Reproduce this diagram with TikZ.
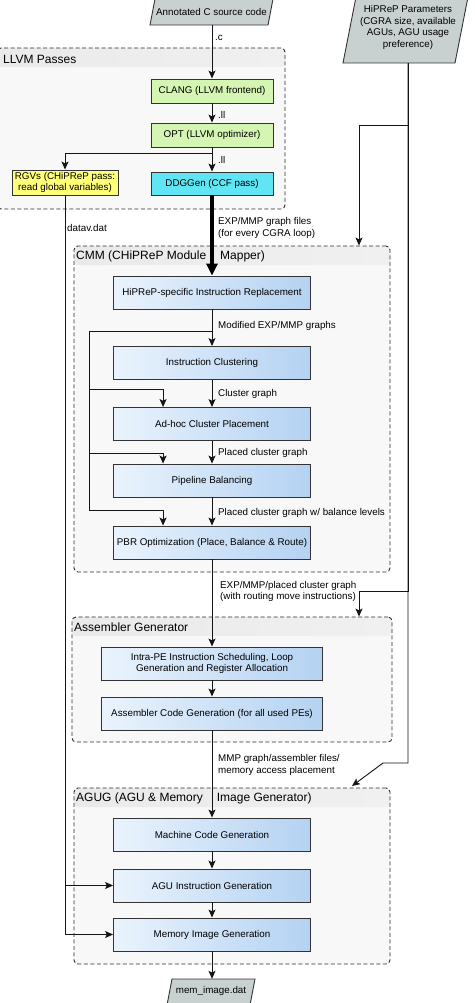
\documentclass[tikz,border=0pt]{standalone}
\usepackage{fontspec}
\setmainfont{Liberation Sans}
\usetikzlibrary{arrows.meta,calc}
\definecolor{bord}{HTML}{333333}
\definecolor{lnc}{HTML}{141414}
\definecolor{dashc}{HTML}{2E2E2E}
\definecolor{blueL}{HTML}{EAF3FD}
\definecolor{blueR}{HTML}{B4D2F2}
\definecolor{greenF}{HTML}{D5F5B3}
\definecolor{yellowF}{HTML}{FFFF78}
\definecolor{cyanF}{HTML}{5FE5F3}
\definecolor{dataf}{HTML}{C9D0D0}
\definecolor{contbody}{HTML}{F8F8F8}
\definecolor{hdrL}{HTML}{EAEAEA}
\definecolor{hdrR}{HTML}{F0F0F0}
\tikzset{
  every node/.style={font=\fontsize{9.8}{11.6}\selectfont},
  proc/.style={draw=bord, line width=0.9pt, left color=blueL, right color=blueR, minimum width=197pt, minimum height=33pt, align=center, inner sep=1pt},
  llvmbox/.style={draw=bord, line width=0.9pt, minimum width=122pt, minimum height=24pt, align=center, inner sep=1pt},
  arr/.style={draw=lnc, line width=0.9pt, -{Stealth[length=8pt,width=7pt,inset=1.8pt]}},
  lnk/.style={draw=lnc, line width=0.9pt},
  lbl/.style={anchor=west, align=left, inner sep=0pt},
  cont/.style={draw=dashc, dash pattern=on 4pt off 2.5pt, line width=0.9pt, rounded corners=4pt, fill=contbody, inner sep=0pt,
    path picture={\fill[left color=hdrL,right color=hdrR] (path picture bounding box.north west) rectangle ([yshift=-19pt]path picture bounding box.north east);}},
  contitle/.style={anchor=west, inner sep=0pt, font=\fontsize{12}{14}\selectfont},
  datashape/.style={fill=dataf, draw=bord, line width=0.9pt},
  datatext/.style={inner sep=0pt, align=center, minimum width=100pt},
}
\begin{document}
\begin{tikzpicture}[x=1pt,y=-1pt]
\useasboundingbox (0,0) rectangle (474,1003);

% containers
\node[cont, minimum width=288pt, minimum height=161pt] (llvm) at (141,128.5) {};
\node[cont, minimum width=316pt, minimum height=326pt] (cmm) at (232,409) {};
\node[cont, minimum width=320pt, minimum height=125pt] (asm) at (232,679.5) {};
\node[cont, minimum width=316pt, minimum height=176pt] (agug) at (232,876) {};

\node[contitle] (tllvm) at (3,59) {LLVM Passes};
\node[contitle] (tcmm) at (76,256) {CMM (CHiPReP Module\hspace{14pt}Mapper)};
\node[contitle] (tasm) at (74,627) {Assembler Generator};
\node[contitle] (tagug) at (76,798) {AGUG (AGU \& Memory\hspace{14pt}Image Generator)};

% data shapes
\filldraw[datashape] (150,25) -- (155,-1) -- (273,-1) -- (268,25) -- cycle;
\node[datatext, minimum height=25pt] (anno) at (211.5,12.5) {Annotated C source code};
\filldraw[datashape] (343,63) -- (356,-3) -- (468,-3) -- (455,63) -- cycle;
\node[datatext, minimum height=71pt] (param) at (408,27.5) {HiPReP Parameters\\(CGRA size, available\\AGUs, AGU usage\\preference)};
\filldraw[datashape] (172,979) -- (255,979) -- (250,1005) -- (167,1005) -- cycle;
\node[datatext, minimum height=24pt, minimum width=60pt] (mem) at (211,991) {mem\_image.dat};

% LLVM boxes
\node[llvmbox, fill=greenF] (clang) at (212,91) {CLANG (LLVM frontend)};
\node[llvmbox, fill=greenF] (opt) at (212,135) {OPT (LLVM optimizer)};
\node[llvmbox, fill=cyanF, minimum height=23pt] (ddg) at (212,183.5) {DDGGen (CCF pass)};
\node[draw=bord, line width=0.9pt, fill=yellowF, minimum width=106pt, minimum height=25pt, align=center, inner sep=1pt,
  font=\fontsize{9.8}{11}\selectfont] (rgv) at (65,182.5) {RGVs (CHiPReP pass:\\read global variables)};

% CMM boxes
\node[proc] (hsir) at (212,292.5) {HiPReP-specific Instruction Replacement};
\node[proc] (ic) at (212,363) {Instruction Clustering};
\node[proc] (adhoc) at (212,424) {Ad-hoc Cluster Placement};
\node[proc] (pipe) at (212,480.5) {Pipeline Balancing};
\node[proc] (pbr) at (212,542.5) {PBR Optimization (Place, Balance \& Route)};

% Assembler boxes
\node[proc, minimum width=221pt] (intra) at (212,663.5) {Intra-PE Instruction Scheduling, Loop\\Generation and Register Allocation};
\node[proc, minimum width=221pt] (asmc) at (212,713.5) {Assembler Code Generation (for all used PEs)};

% AGUG boxes
\node[proc] (mcg) at (212,834.5) {Machine Code Generation};
\node[proc] (agui) at (212,885.5) {AGU Instruction Generation};
\node[proc] (memg) at (212,934.5) {Memory Image Generation};

% labels
\node[lbl] (lc) at (215,38) {.c};
\node[lbl] (ll1) at (218,115) {.ll};
\node[lbl] (ll2) at (218,160) {.ll};
\node[lbl, font=\fontsize{9.8}{12}\selectfont] (lexp) at (218,228) {EXP/MMP graph files\\(for every CGRA loop)};
\node[lbl] (ldat) at (67,228) {datav.dat};
\node[lbl] (lmod) at (218,326) {Modified EXP/MMP graphs};
\node[lbl] (lcg) at (218,394) {Cluster graph};
\node[lbl] (lpcg) at (218,453) {Placed cluster graph};
\node[lbl] (lbal) at (218,513) {Placed cluster graph w/ balance levels};
\node[lbl, font=\fontsize{9.8}{11.5}\selectfont] (lrout) at (220,591.5) {EXP/MMP/placed cluster graph\\(with routing move instructions)};
\node[lbl, font=\fontsize{9.8}{12}\selectfont] (lasm) at (218,765) {MMP graph/assembler files/\\memory access placement};

% main chain
\draw[arr] (anno.south -| clang.north) -- (clang.north);
\draw[arr] (clang) -- (opt);
\draw[arr] (opt) -- (ddg);
\draw[arr] (opt.south) -- ++(0,6) -| (rgv.north);
\draw[draw=black, line width=4pt, -{Triangle[length=12pt,width=11pt]}] (ddg.south) -- (hsir.north);
\draw[arr] (hsir) -- (ic);
\draw[arr] (ic) -- (adhoc);
\draw[arr] (adhoc) -- (pipe);
\draw[arr] (pipe) -- (pbr);
\draw[arr] (pbr) -- (intra);
\draw[arr] (intra) -- (asmc);
\draw[arr] (asmc) -- (mcg);
\draw[arr] (mcg) -- (agui);
\draw[arr] (agui) -- (memg);
\draw[arr] (memg.south) -- (mem.north -| memg.south);

% feedback lines inside CMM
\coordinate (f0) at (89,331);
\coordinate (f1) at (89,389);
\coordinate (f2) at (89,453);
\coordinate (f3) at (89,510);
\draw[lnk] (f0 -| hsir.south) -- (f0) -- (f3);
\draw[arr] (f1) -| ([xshift=50pt]adhoc.north west);
\draw[arr] (f2) -| ([xshift=50pt]pipe.north west);
\draw[arr] (f3) -| ([xshift=50pt]pbr.north west);

% RGV data lines
\draw[arr] (rgv.south) |- (agui.west);
\draw[arr] (rgv.south) |- (memg.west);

% parameter lines
\coordinate (c1) at (359,125);
\coordinate (c2) at (359,591);
\coordinate (c3) at (383,763);
\coordinate (c4) at (352,786);
\draw[arr] (param.south) |- (c1) -- (c1 |- cmm.north);
\draw[arr] (param.south) |- (c2) -- (c2 |- asm.north);
\draw[arr] (param.south) |- (c3) -- (c4);
\end{tikzpicture}
\end{document}
